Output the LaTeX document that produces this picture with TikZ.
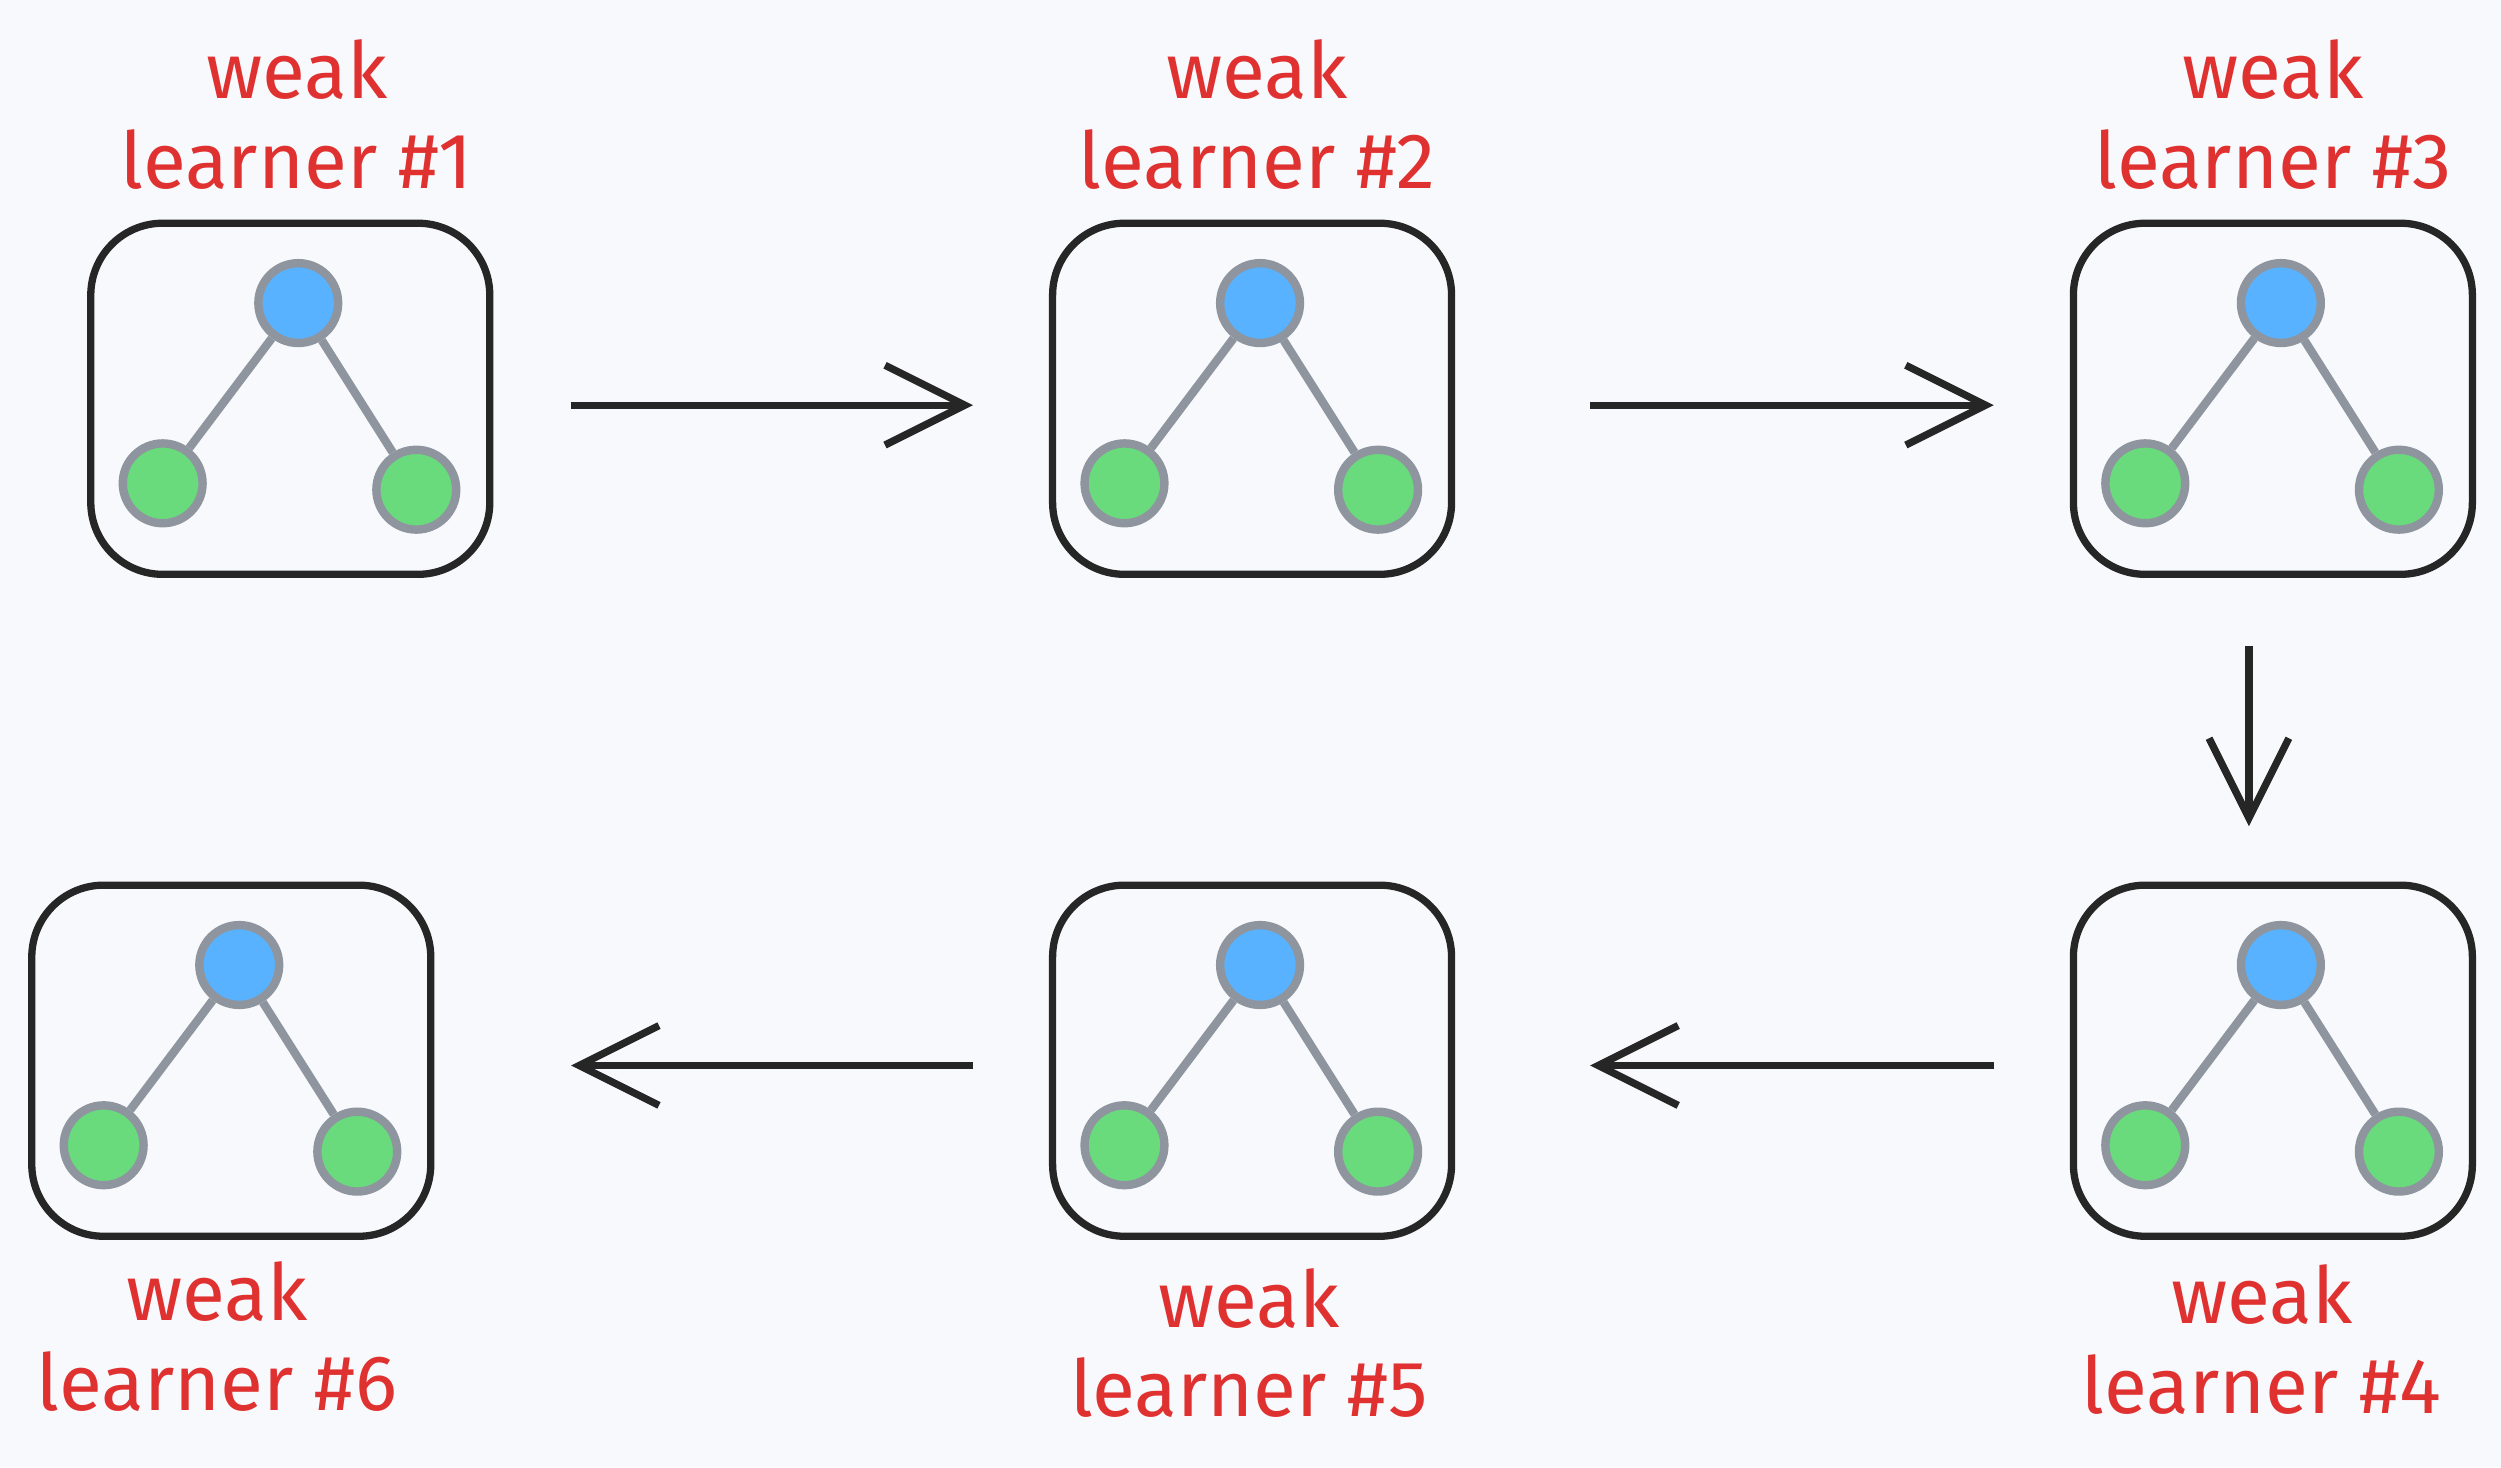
\documentclass[tikz,border=0pt]{standalone}
\usepackage{fontspec}
\setmainfont{Fira Sans}
\usetikzlibrary{arrows.meta}
\definecolor{bg}{HTML}{F8F9FC}
\definecolor{lab}{HTML}{E03131}
\definecolor{blu}{HTML}{58B2FF}
\definecolor{grn}{HTML}{69DB7C}
\definecolor{edg}{HTML}{8E959E}
\begin{document}
\begin{tikzpicture}[x=0.01cm,y=-0.01cm,
  box/.style={draw=black!85,line width=1.3pt,rounded corners=0.45cm,minimum width=2.5cm,minimum height=2.2cm},
  nd/.style={circle,draw=edg,line width=1.5pt,minimum size=0.5cm,inner sep=0pt},
  ed/.style={edg,line width=1.5pt},
  lbl/.style={text=lab,font=\fontsize{14}{16}\selectfont,align=center},
  arr/.style={draw=black!85,line width=1.3pt,-{Straight Barb[length=5mm,width=5mm,line width=1.3pt]}}]
\fill[bg] (0,0) rectangle (1568,920);
\useasboundingbox (0,0) rectangle (1568,920);
\foreach \n/\x/\y in {1/182/250,2/785/250,3/1425/250,4/1425/665,5/785/665,6/145/665}{
  \node[box] (b\n) at (\x,\y) {};
  \node[nd,fill=blu] (t\n) at (\x+5,\y-60) {};
  \node[nd,fill=grn] (l\n) at (\x-80,\y+53) {};
  \node[nd,fill=grn] (r\n) at (\x+79,\y+57) {};
  \draw[ed] (t\n) -- (l\n);
  \draw[ed] (t\n) -- (r\n);
}
\node[lbl] (L1) at (186,72) {weak\\learner \#1};
\node[lbl] (L2) at (788,72) {weak\\learner \#2};
\node[lbl] (L3) at (1425,72) {weak\\learner \#3};
\node[lbl] (L4) at (1418,840) {weak\\learner \#4};
\node[lbl] (L5) at (783,842) {weak\\learner \#5};
\node[lbl] (L6) at (136,838) {weak\\learner \#6};
\coordinate (a1s) at (358,254); \coordinate (a1e) at (610,254);
\coordinate (a2s) at (997,254); \coordinate (a2e) at (1250,254);
\coordinate (a3s) at (1410,405); \coordinate (a3e) at (1410,518);
\coordinate (a4s) at (1250,668); \coordinate (a4e) at (997,668);
\coordinate (a5s) at (610,668); \coordinate (a5e) at (358,668);
\draw[arr] (a1s) -- (a1e);
\draw[arr] (a2s) -- (a2e);
\draw[arr] (a3s) -- (a3e);
\draw[arr] (a4s) -- (a4e);
\draw[arr] (a5s) -- (a5e);
\end{tikzpicture}
\end{document}
